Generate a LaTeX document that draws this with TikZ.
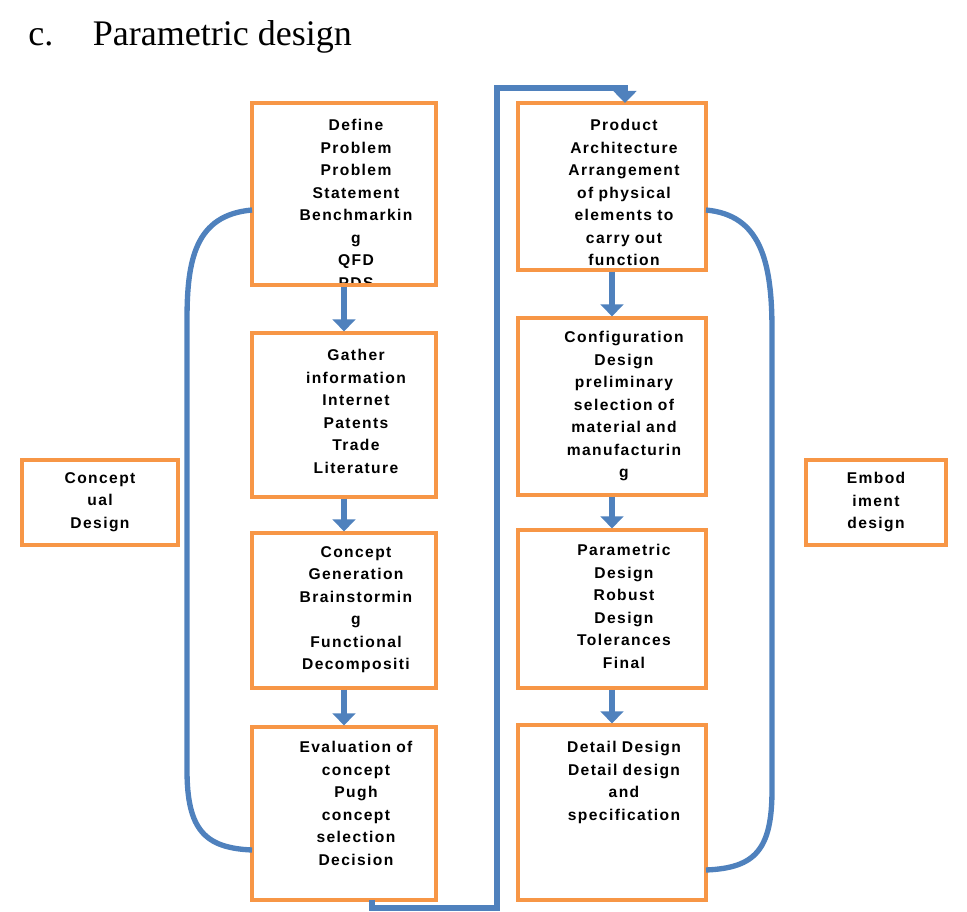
\documentclass[tikz,border=0pt]{standalone}
\usepackage{fontspec}
\setmainfont{Liberation Serif}
\newfontfamily\arial[LetterSpace=9]{Liberation Sans}
\usetikzlibrary{arrows.meta,fit,calc}
\definecolor{bor}{RGB}{247,150,70}
\definecolor{blu}{RGB}{79,129,189}
\begin{document}
\begin{tikzpicture}[x=0.75pt,y=-0.75pt,
  box/.style={draw=bor,line width=2.4pt,inner sep=0pt},
  txt/.style={anchor=north,align=center,font=\arial\bfseries\fontsize{11.7}{16.9}\selectfont,inner sep=0pt,text width=150pt},
  arr/.style={draw=blu,line width=4pt,-{Triangle[width=17pt,length=9pt]}},
  brk/.style={draw=blu,line width=4pt}]
\useasboundingbox (0,0) rectangle (967,912);
\node[anchor=west,font=\fontsize{27}{30}\selectfont,inner sep=0pt] (title) at (28,37) {c.\hspace{1.1em}Parametric design};
\foreach \n/\xa/\ya/\xb/\yb/\ty/\dx/\t in {
  b1/252/103/436/285/119/12/{Define\\Problem\\Problem\\Statement\\Benchmarkin\\g\\QFD\\PDS},
  b2/252/333/436/497/349/12/{Gather\\information\\Internet\\Patents\\Trade\\Literature},
  b3/252/533/436/688/546/12/{Concept\\Generation\\Brainstormin\\g\\Functional\\Decompositi},
  b4/252/727/436/900/741/12/{Evaluation of\\concept\\Pugh\\concept\\selection\\Decision},
  b5/518/103/706/270/119/12/{Product\\Architecture\\Arrangement\\of physical\\elements to\\carry out\\function},
  b6/518/318/706/495/331/12/{Configuration\\Design\\preliminary\\selection of\\material and\\manufacturin\\g},
  b7/518/530/706/688/544/12/{Parametric\\Design\\Robust\\Design\\Tolerances\\Final},
  b8/518/725/706/900/741/12/{Detail Design\\Detail design\\and\\specification},
  bl/22/460/178/545/472/0/{Concept\\ual\\Design},
  br/806/460/946/545/472/0/{Embod\\iment\\design}}{
  \coordinate (\n nw) at (\xa,\ya);
  \coordinate (\n se) at (\xb,\yb);
  \node[box,fit=(\n nw)(\n se)] (\n) {};
  \begin{scope}
    \clip ($(\xa,\ya)+(2,2)$) rectangle ($(\xb,\yb)+(-2,-2)$);
    \node[txt] (\n t) at ({(\xa+\xb)/2+\dx},\ty) {\t};
  \end{scope}
}
\draw[arr] (b1) -- (b2);
\draw[arr] (b2) -- (b3);
\draw[arr] (b3) -- (b4);
\draw[arr] (b5.south) -- (b6.north);
\draw[arr] (b6.south) -- (b7.north);
\draw[arr] (b7.south) -- (b8.north);
\coordinate (c1) at (372,900);
\coordinate (c2) at (625,103);
\draw[arr] (c1) -- (372,908) -- (497,908) -- (497,88) -- (625,88) -- (c2);
\coordinate (l1) at (252,210); \coordinate (l2) at (252,850);
\draw[brk] (l1) .. controls (195,215) and (187,260) .. (187,320) -- (187,770) .. controls (187,830) and (205,848) .. (l2);
\coordinate (r1) at (706,210); \coordinate (r2) at (706,870);
\draw[brk] (r1) .. controls (760,215) and (772,260) .. (772,330) -- (772,790) .. controls (772,850) and (755,868) .. (r2);
\end{tikzpicture}
\end{document}
